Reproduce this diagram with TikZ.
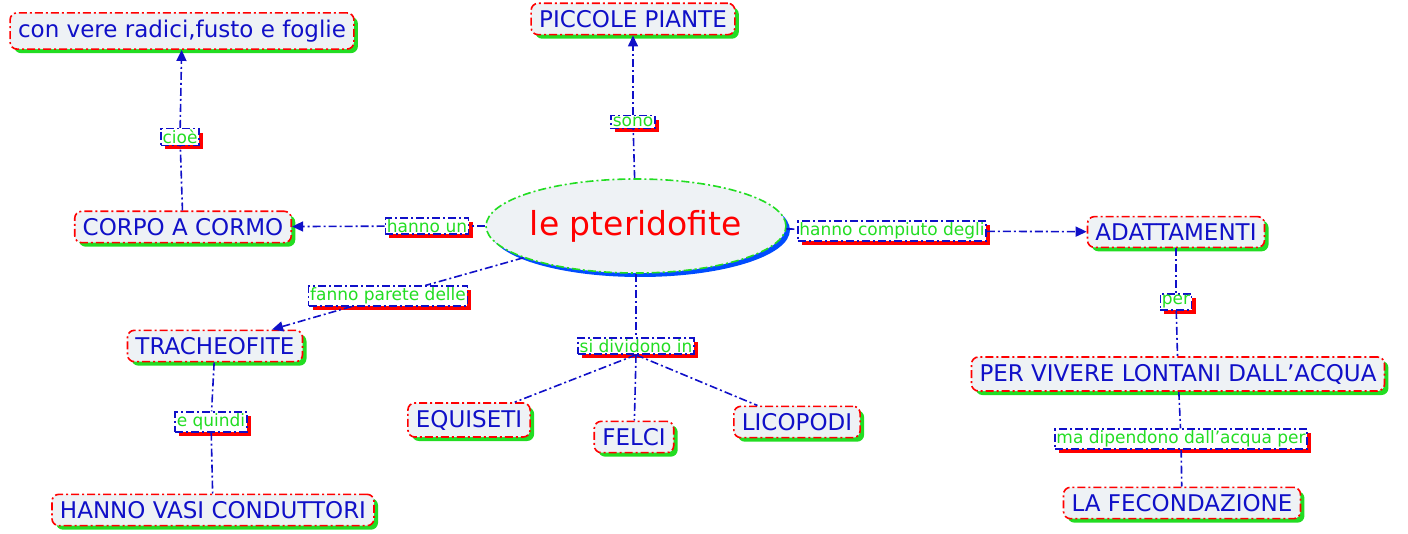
\documentclass[tikz,border=0pt]{standalone}
\usepackage{fontspec}
\setmainfont{DejaVu Sans}
\usetikzlibrary{shapes.geometric,shadows,arrows.meta}
\definecolor{cfill}{HTML}{EEF2F5}
\definecolor{lblue}{HTML}{1010C8}
\definecolor{lgreen}{HTML}{22DD22}
\tikzset{
  ddot/.style={dash pattern=on 8pt off 3pt on 2pt off 3pt},
  concept/.style={draw=red, ddot, line width=1.6pt, rounded corners=7pt, fill=cfill,
    text=lblue, font=\fontsize{23}{26}\selectfont, inner xsep=8pt, inner ysep=7pt,
    general shadow={shadow xshift=4pt, shadow yshift=-4pt, fill=lgreen}},
  lab/.style={draw=lblue, ddot, fill=white, text=lgreen, line width=1.6pt,
    font=\fontsize{17}{19}\selectfont, inner sep=1.5pt,
    general shadow={shadow xshift=4pt, shadow yshift=-4pt, fill=red}},
  link/.style={draw=lblue, ddot, line width=1.6pt},
  arr/.style={link, -{Triangle[length=11pt,width=10pt]}}
}
\begin{document}
\begin{tikzpicture}[x=1pt,y=-1pt]
\useasboundingbox (0,0) rectangle (1408,534);
% concepts
\node[ellipse, draw=lgreen, ddot, line width=1.6pt, fill=cfill, minimum width=236pt, minimum height=94pt,
  text=red, font=\fontsize{33}{36}\selectfont, inner sep=0pt,
  general shadow={shadow xshift=4pt, shadow yshift=-4pt, fill=blue!70!cyan}] (pter) at (636,226) {le pteridofite};
\node[concept] (radici) at (182,31) {con vere radici,fusto e foglie};
\node[concept] (piccole) at (633,19) {PICCOLE PIANTE};
\node[concept] (cormo) at (183,227) {CORPO A CORMO};
\node[concept] (adatt) at (1176,232) {ADATTAMENTI};
\node[concept] (trach) at (215,346) {TRACHEOFITE};
\node[concept] (equi) at (469,420) {EQUISETI};
\node[concept] (felci) at (634,437) {FELCI};
\node[concept] (licop) at (797,422) {LICOPODI};
\node[concept] (vivere) at (1178,374) {PER VIVERE LONTANI DALL'ACQUA};
\node[concept] (fecond) at (1182,503) {LA FECONDAZIONE};
\node[concept] (vasi) at (213,510) {HANNO VASI CONDUTTORI};
% link labels
\node[lab] (l1) at (180,137) {cioè};
\node[lab] (l2) at (633,122) {sono};
\node[lab] (l3) at (427,226) {hanno un};
\node[lab] (l4) at (892,231) {hanno compiuto degli};
\node[lab] (l5) at (388,296) {fanno parete delle};
\node[lab] (l6) at (636,346) {si dividono in};
\node[lab] (l7) at (1176,302) {per};
\node[lab] (l8) at (211,422) {e quindi};
\node[lab] (l9) at (1181,439) {ma dipendono dall'acqua per};
% connectors
\draw[link] (cormo) -- (l1);
\draw[arr] (l1) -- (radici);
\draw[link] (pter) -- (l2);
\draw[arr] (l2) -- (piccole);
\draw[link] (pter) -- (l3);
\draw[arr] (l3) -- (cormo);
\draw[link] (pter) -- (l4);
\draw[arr] (l4) -- (adatt);
\draw[link] (pter) -- (l5);
\draw[arr] (l5) -- (trach);
\draw[link] (pter) -- (l6);
\draw[link] (l6.south) -- (equi);
\draw[link] (l6.south) -- (felci);
\draw[link] (l6.south) -- (licop);
\draw[link] (adatt) -- (l7);
\draw[link] (l7) -- (vivere);
\draw[link] (trach) -- (l8);
\draw[link] (l8) -- (vasi);
\draw[link] (vivere) -- (l9);
\draw[link] (l9) -- (fecond);
\end{tikzpicture}
\end{document}
